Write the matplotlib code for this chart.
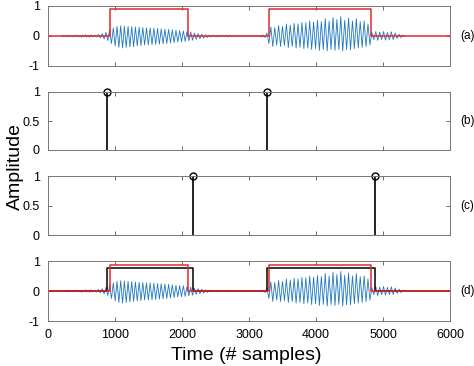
import numpy as np
import matplotlib.pyplot as plt

# segment data: (start sample, cycle length, positive peaks, negative peaks)
noise1_pos = [0.01, 0.02, 0.02, 0.03, 0.02, 0.03, 0.03, 0.02, 0.03, 0.04, 0.03, 0.04]
noise1_neg = [-0.01, -0.02, -0.03, -0.02, -0.03, -0.02, -0.03, -0.04, -0.03, -0.03, -0.04, -0.03]

burst1_pos = [0.03, 0.05, 0.08, 0.12, 0.2, 0.27, 0.32, 0.34, 0.33, 0.32, 0.31, 0.3,
              0.29, 0.28, 0.27, 0.27, 0.26, 0.25, 0.24, 0.23, 0.22, 0.2, 0.19, 0.18,
              0.17, 0.15, 0.13, 0.1, 0.08, 0.06, 0.04, 0.03]
burst1_neg = [-0.03, -0.06, -0.1, -0.15, -0.25, -0.33, -0.38, -0.4, -0.38, -0.36, -0.35, -0.33,
              -0.32, -0.3, -0.3, -0.29, -0.28, -0.27, -0.26, -0.25, -0.23, -0.22, -0.2, -0.19,
              -0.18, -0.16, -0.14, -0.11, -0.09, -0.07, -0.05, -0.03]

noise2_pos = [0.03, 0.02, 0.03, 0.02, 0.02, 0.03, 0.02, 0.02, 0.01, 0.02, 0.02, 0.01, 0.02, 0.01, 0.02]
noise2_neg = [-0.02, -0.03, -0.02, -0.02, -0.03, -0.02, -0.02, -0.01, -0.02, -0.02, -0.01, -0.02, -0.01, -0.02, -0.03]

burst2_pos = [0.03, 0.1, 0.3, 0.28, 0.35, 0.32, 0.4, 0.36, 0.42, 0.4, 0.45, 0.44, 0.5,
              0.46, 0.52, 0.48, 0.58, 0.5, 0.62, 0.55, 0.65, 0.52, 0.6, 0.5, 0.58, 0.48,
              0.5, 0.4, 0.12, 0.15, 0.13, 0.15, 0.12, 0.14, 0.1, 0.06, 0.03]
burst2_neg = [-0.05, -0.25, -0.35, -0.3, -0.35, -0.32, -0.38, -0.35, -0.4, -0.38, -0.42, -0.4,
              -0.45, -0.42, -0.48, -0.45, -0.5, -0.45, -0.48, -0.45, -0.5, -0.45, -0.46, -0.42,
              -0.4, -0.38, -0.35, -0.3, -0.12, -0.15, -0.12, -0.14, -0.12, -0.12, -0.08, -0.05, -0.02]

segments = [(200, 40, noise1_pos, noise1_neg),
            (700, 55, burst1_pos, burst1_neg),
            (2460, 50, noise2_pos, noise2_neg),
            (3210, 58, burst2_pos, burst2_neg)]

# detection windows
red_on = [920, 3300]
red_off = [2090, 4815]
black_on = [885, 3265]
black_off = [2165, 4885]
red_level_a = 0.9
red_level_d = 0.87
black_level_d = 0.77

# onset / offset impulses
onsets = [885, 3265]
offsets = [2165, 4885]


def build_signal():
    t, y = [], []
    for start, per, pos, neg in segments:
        for i in range(len(pos)):
            t += [start + i * per, start + i * per + per / 2]
            y += [pos[i], neg[i]]
    return np.array(t), np.array(y)


def window(on, off, h):
    x, y = [0], [0]
    for a, b in zip(on, off):
        x += [a, a, b, b]
        y += [0, h, h, 0]
    x.append(6000)
    y.append(0)
    return x, y


sig_t, sig_y = build_signal()
blue = '#1f78c1'
red = '#E8262A'

plt.rcParams['font.family'] = 'Liberation Sans'
fig = plt.figure(figsize=(4.74, 3.66), dpi=100)
W, H = 474, 366
tops = [6, 92, 176, 261]
bots = [66, 150, 235, 321]
axs = []
for tp, bt in zip(tops, bots):
    ax = fig.add_axes([48 / W, 1 - bt / H, (450 - 48) / W, (bt - tp) / H])
    axs.append(ax)

ax = axs[0]
ax.plot(sig_t, sig_y, color=blue, lw=0.6)
x, y = window(red_on, red_off, red_level_a)
ax.plot(x, y, color=red, lw=1.1)

ax = axs[1]
ax.vlines(onsets, 0, 1, color='black', lw=1.2)
ax.plot(onsets, [1] * len(onsets), 'o', mfc='none', mec='black', ms=5, mew=1, clip_on=False)

ax = axs[2]
ax.vlines(offsets, 0, 1, color='black', lw=1.2)
ax.plot(offsets, [1] * len(offsets), 'o', mfc='none', mec='black', ms=5, mew=1, clip_on=False)

ax = axs[3]
ax.plot(sig_t, sig_y, color=blue, lw=0.6)
x, y = window(black_on, black_off, black_level_d)
ax.plot(x, y, color='black', lw=1.1)
x, y = window(red_on, red_off, red_level_d)
ax.plot(x, y, color=red, lw=1.1)

for i, ax in enumerate(axs):
    ax.set_xlim(0, 6000)
    ax.set_xticks(range(0, 7000, 1000))
    if i in (0, 3):
        ax.set_ylim(-1, 1)
        ax.set_yticks([-1, 0, 1])
        ax.set_yticklabels(['-1', '0', '1'])
    else:
        ax.set_ylim(0, 1)
        ax.set_yticks([0, 0.5, 1])
        ax.set_yticklabels(['0', '0.5', '1'])
    ax.tick_params(direction='in', top=True, right=True, length=3, width=0.6,
                   color='#555555', labelsize=9, pad=6)
    if i < 3:
        ax.set_xticklabels([])
    for s in ax.spines.values():
        s.set_color('#777777')
        s.set_linewidth(0.7)
    ax.text(1.025, 0.5, '(%s)' % 'abcd'[i], transform=ax.transAxes,
            va='center', ha='left', fontsize=8.5)

fig.text(15 / W, 1 - 167 / H, 'Amplitude', rotation=90, va='center', ha='center', fontsize=14)
fig.text(246 / W, 1 - 355 / H, 'Time (# samples)', va='center', ha='center', fontsize=14)

fig.savefig('out.png', dpi=100)
